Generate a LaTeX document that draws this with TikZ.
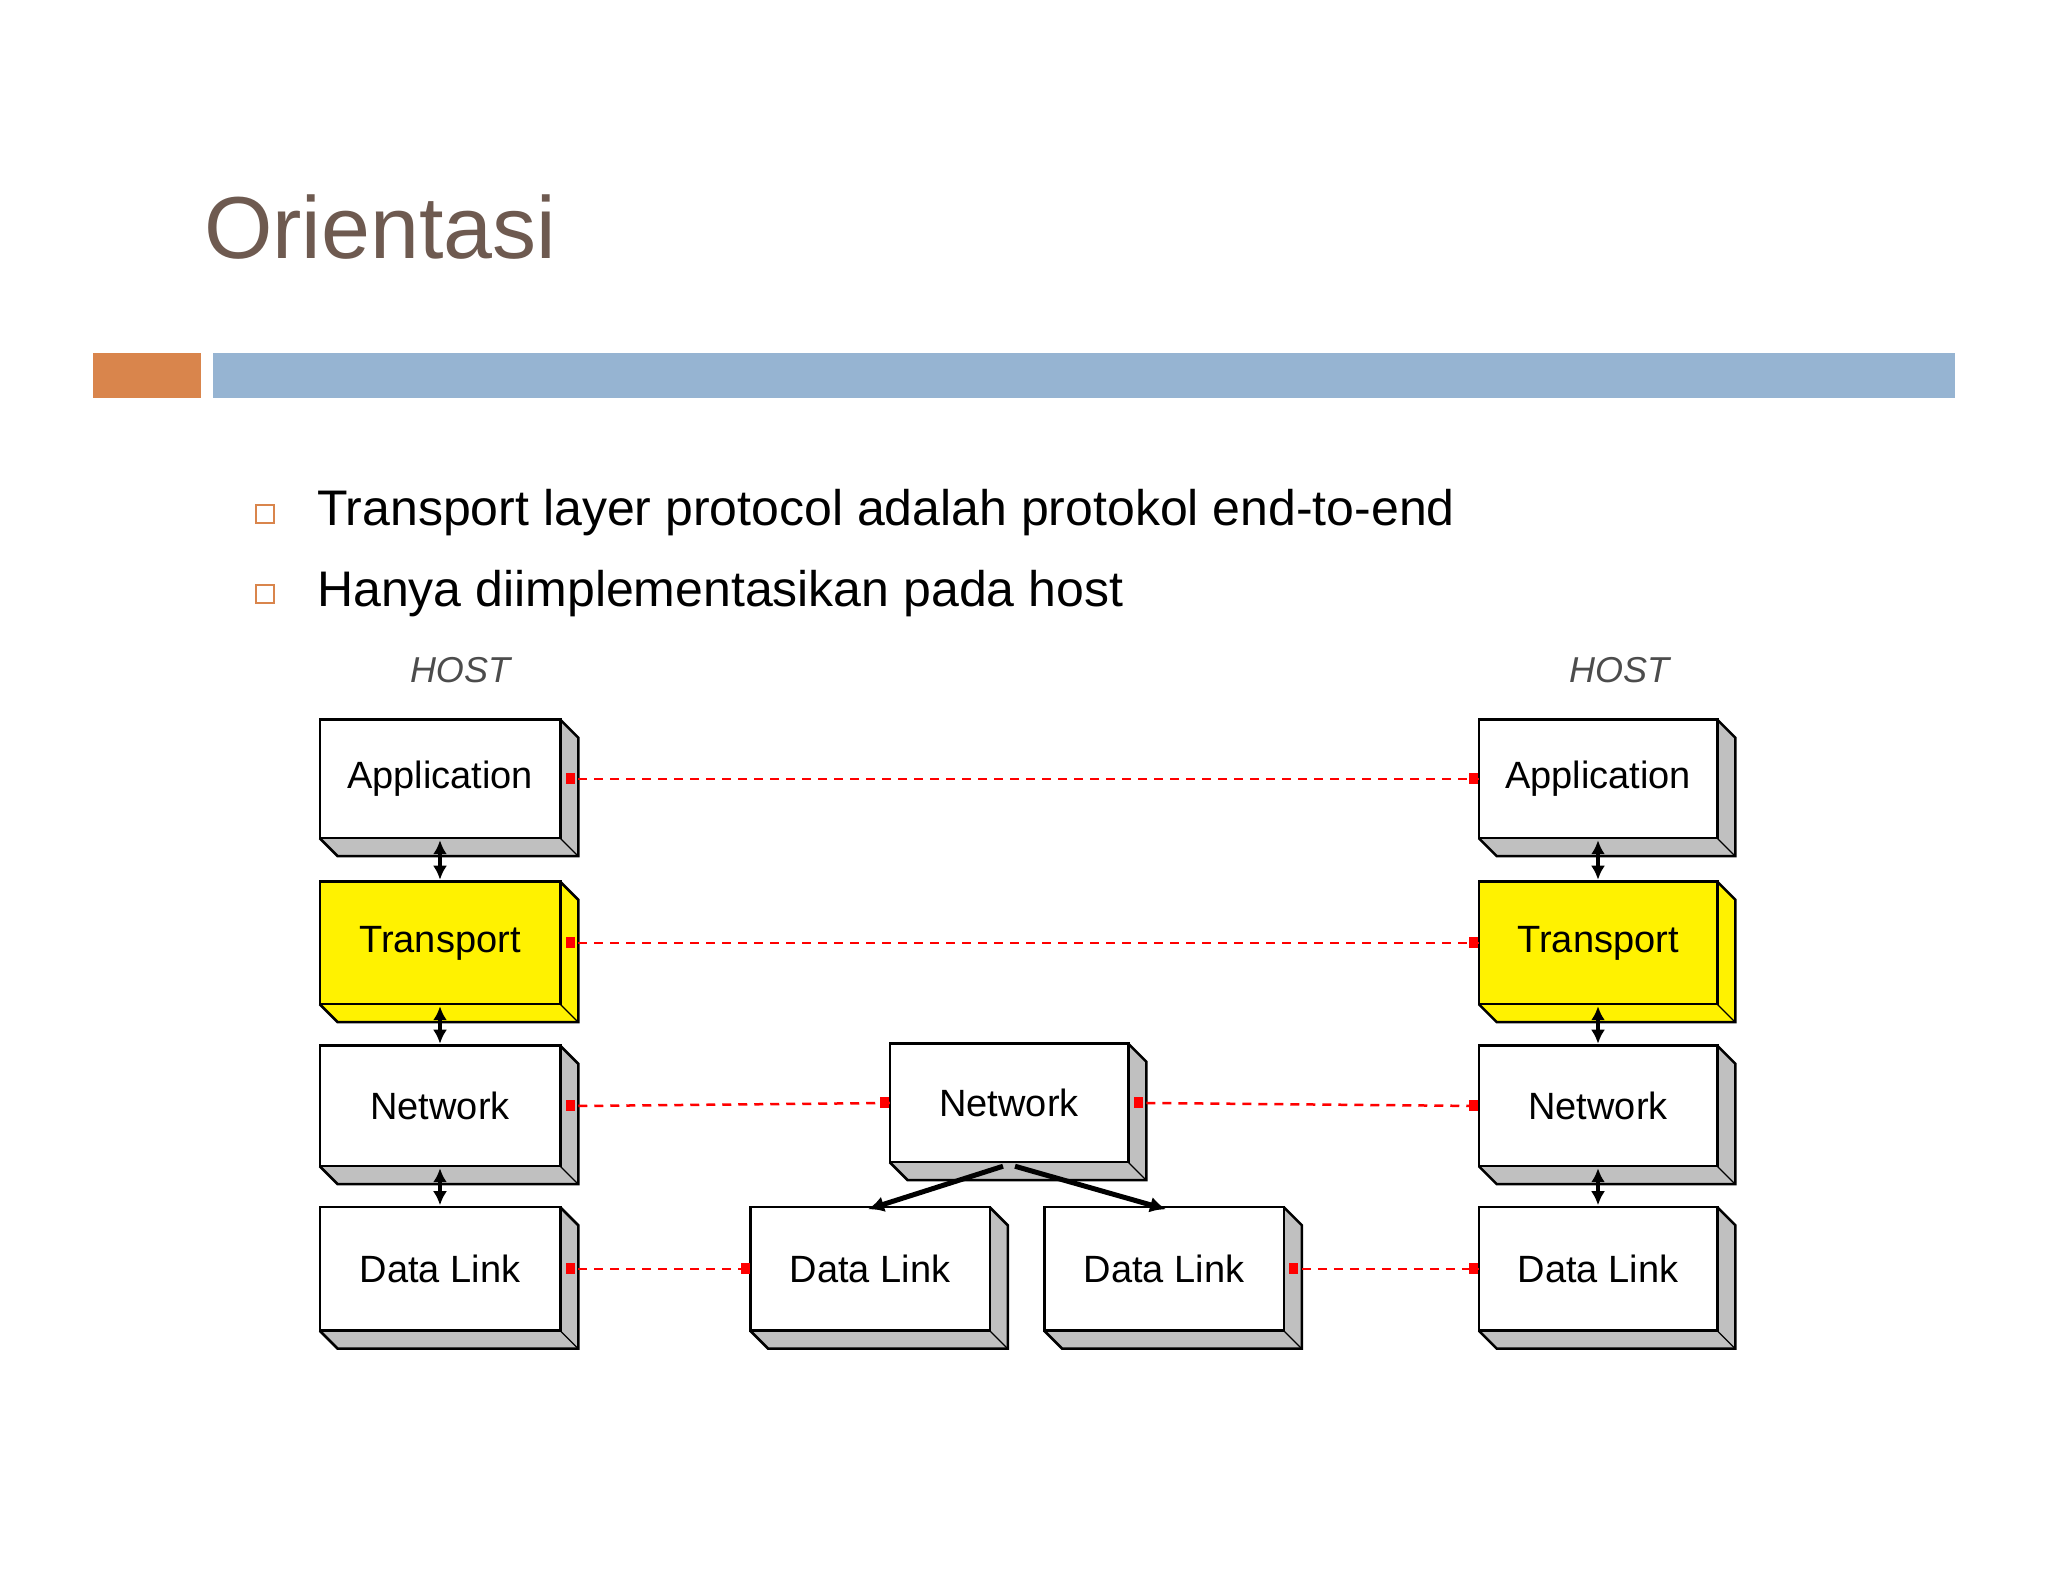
\documentclass[tikz,border=0pt]{standalone}
\usepackage{fontspec}
\setmainfont{Liberation Sans}
\usetikzlibrary{arrows.meta}
\definecolor{titlec}{RGB}{110,90,80}
\definecolor{orangec}{RGB}{217,133,76}
\definecolor{bluec}{RGB}{150,180,210}
\definecolor{sidec}{RGB}{192,192,192}
\newcommand\lbox[7]{%
  \node[layer,#6box,minimum width=#4pt,minimum height=#5pt] (#1) at (#2,#3) {};
  \fill[#6side] (#1.north east) -- ++(18,-18) -- ([xshift=18pt,yshift=-18pt]#1.south east) -- ([xshift=18pt,yshift=-18pt]#1.south west) -- (#1.south west) -- cycle;
  \draw[line width=2.5pt,line join=miter] (#1.north east) -- ++(18,-18) -- ([xshift=18pt,yshift=-18pt]#1.south east) -- ([xshift=18pt,yshift=-18pt]#1.south west) -- (#1.south west);
  \draw[line width=1.2pt] (#1.south east) -- ++(18,-18);
  \draw[layer,#6box] (#1.south west) rectangle (#1.north east);
  \node[font=\fontsize{38}{40}\selectfont] at (#1) {#7};
}
\tikzset{
  normbox/.style={fill=white}, normside/.style={fill=sidec},
  ybox/.style={fill=yellow}, yside/.style={fill=yellow},
  layer/.style={draw,line width=2.5pt,inner sep=0pt},
  vert/.style={line width=4pt,{Latex[length=14pt,width=14pt]}-{Latex[length=14pt,width=14pt]}},
  peer/.style={red,line width=2.5pt,dash pattern=on 9pt off 7pt},
  pmark/.style={fill=red,minimum width=9pt,minimum height=11pt,inner sep=0pt}
}
\begin{document}
\begin{tikzpicture}[x=1pt,y=1pt]
\useasboundingbox (0,0) rectangle (2048,1582);
\fill[white] (0,0) rectangle (2048,1582);
\node[anchor=base west,text=titlec,font=\fontsize{88}{90}\selectfont,inner sep=0pt] (title) at (204,1323) {Orientasi};
\fill[orangec] (93,1184) rectangle (201,1229);
\fill[bluec] (213,1184) rectangle (1955,1229);
\node[draw=orangec,line width=1.5pt,minimum size=18pt,inner sep=0pt] (b1) at (265,1068) {};
\node[draw=orangec,line width=1.5pt,minimum size=18pt,inner sep=0pt] (b2) at (265,988) {};
\node[anchor=base west,font=\fontsize{50}{52}\selectfont,inner sep=0pt] (t1) at (317,1056) {Transport layer protocol adalah protokol end-to-end};
\node[anchor=base west,font=\fontsize{50}{52}\selectfont,inner sep=0pt] (t2) at (317,975) {Hanya diimplementasikan pada host};
\node[font=\itshape\fontsize{36}{38}\selectfont,text=black!70] (h1) at (460,912) {HOST};
\node[font=\itshape\fontsize{36}{38}\selectfont,text=black!70] (h2) at (1619,912) {HOST};
\lbox{la}{440}{803}{238}{116}{norm}{Application}
\lbox{lt}{440}{639}{238}{120}{y}{Transport}
\lbox{ln}{440}{476}{238}{118}{norm}{Network}
\lbox{ld}{440}{313}{238}{121}{norm}{Data Link}
\lbox{ra}{1598}{803}{236}{116}{norm}{Application}
\lbox{rt}{1598}{639}{236}{120}{y}{Transport}
\lbox{rn}{1598}{476}{236}{118}{norm}{Network}
\lbox{rd}{1598}{313}{236}{121}{norm}{Data Link}
\lbox{mn}{1009}{479}{236}{116}{norm}{Network}
\lbox{d1}{870}{313}{237}{121}{norm}{Data Link}
\lbox{d2}{1164}{313}{237}{121}{norm}{Data Link}
\foreach \a/\b in {la/lt,lt/ln,ln/ld,ra/rt,rt/rn,rn/rd}
  \draw[vert] ([yshift=-2pt]\a.south) -- ([yshift=2pt]\b.north);
\draw[line width=5pt,-{Latex[length=16pt,width=16pt]}] ([xshift=-6pt,yshift=-4pt]mn.south) -- ([xshift=-2pt,yshift=-2pt]d1.north);
\draw[line width=5pt,-{Latex[length=16pt,width=16pt]}] ([xshift=6pt,yshift=-4pt]mn.south) -- ([xshift=2pt,yshift=-2pt]d2.north);
\foreach \a/\b in {la/ra,lt/rt,ln/mn,mn/rn,ld/d1,d2/rd}{
  \draw[peer] ([xshift=18pt]\a.east) -- (\b.west);
  \node[pmark] at ([xshift=10pt]\a.east) {};
  \node[pmark] at ([xshift=-5pt]\b.west) {};
}
\end{tikzpicture}
\end{document}
